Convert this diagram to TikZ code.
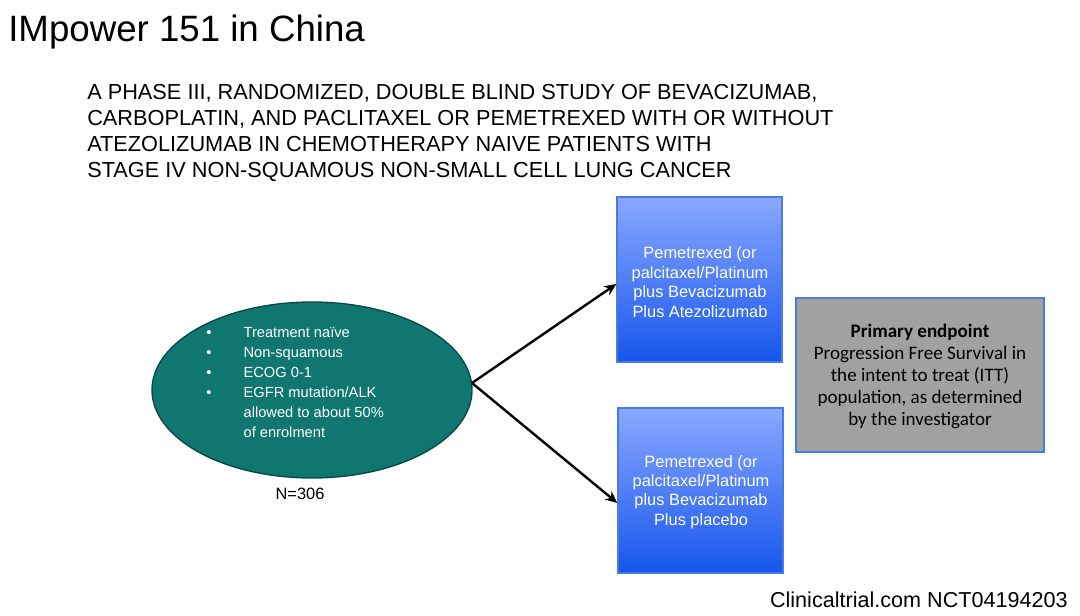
\documentclass[tikz,border=0pt]{standalone}
\usepackage{fontspec}
\setmainfont{Liberation Sans}
\newfontfamily\carl{Carlito}
\usetikzlibrary{shapes.geometric,arrows.meta}
\definecolor{teal1}{HTML}{0F7770}
\definecolor{bluetop}{HTML}{8AA8FF}
\definecolor{bluebot}{HTML}{1656EC}
\definecolor{blueedge}{HTML}{4A7BE0}
\tikzset{
  arm/.style={draw=blueedge,line width=1pt,top color=bluetop,bottom color=bluebot,minimum width=123.75pt,minimum height=123.75pt,inner sep=0pt},
  armtxt/.style={text=white,align=center,font=\fontsize{12.3}{14.6}\selectfont},
  conn/.style={line width=1.8pt,-{Stealth[length=9pt,width=8pt]}}
}
\begin{document}
\begin{tikzpicture}[x=0.75pt,y=-0.75pt]
\useasboundingbox (0,0) rectangle (1080,616);
\node[anchor=base west,inner sep=0,font=\fontsize{27.5}{32}\selectfont] (title) at (8,42) {IMpower 151 in China};
\node[anchor=north west,inner sep=0,align=left,font=\fontsize{16.3}{19.5}\selectfont] (sub) at (87,84) {A PHASE III, RANDOMIZED, DOUBLE BLIND STUDY OF BEVACIZUMAB,\\CARBOPLATIN, AND PACLITAXEL OR PEMETREXED WITH OR WITHOUT\\ATEZOLIZUMAB IN CHEMOTHERAPY NAIVE PATIENTS WITH\\STAGE IV NON-SQUAMOUS NON-SMALL CELL LUNG CANCER};
\node[ellipse,draw=teal1!60!black,line width=1pt,fill=teal1,minimum width=240pt,minimum height=132pt] (pop) at (312,390) {};
\node[anchor=north west,inner sep=0,text=white,align=left,font=\fontsize{11}{15}\selectfont] (crit) at (206,327) {%
\makebox[28pt][l]{\textbullet}Treatment naïve\\
\makebox[28pt][l]{\textbullet}Non-squamous\\
\makebox[28pt][l]{\textbullet}ECOG 0-1\\
\makebox[28pt][l]{\textbullet}EGFR mutation/ALK\\
\hspace*{28pt}allowed to about 50\%\\
\hspace*{28pt}of enrolment};
\node[font=\fontsize{12.3}{14}\selectfont] (n) at (300,494) {N=306};
\node[arm] (a1) at (699.5,279.5) {};
\node[armtxt] at (700,282) {Pemetrexed (or\\palcitaxel/Platinum\\plus Bevacizumab\\Plus Atezolizumab};
\node[arm] (a2) at (700.5,490.5) {};
\node[armtxt] at (701,492) {Pemetrexed (or\\palcitaxel/Platinum\\plus Bevacizumab\\Plus placebo};
\node[draw=blueedge,line width=1pt,fill=black!37,minimum width=186pt,minimum height=115.5pt,inner sep=0] (pe) at (920,375) {};
\node[align=center,font=\carl\fontsize{14.3}{16.5}\selectfont] at (920,376) {\textbf{Primary endpoint}\\Progression Free Survival in\\the intent to treat (ITT)\\population, as determined\\by the investigator};
\coordinate (split) at (472,383);
\draw[conn] (split) -- (a1.west|-0,284);
\draw[conn] (split) -- (a2.west|-0,503);
\node[anchor=base east,inner sep=0,font=\fontsize{16.2}{19}\selectfont] (src) at (1068,607) {Clinicaltrial.com NCT04194203};
\end{tikzpicture}
\end{document}
